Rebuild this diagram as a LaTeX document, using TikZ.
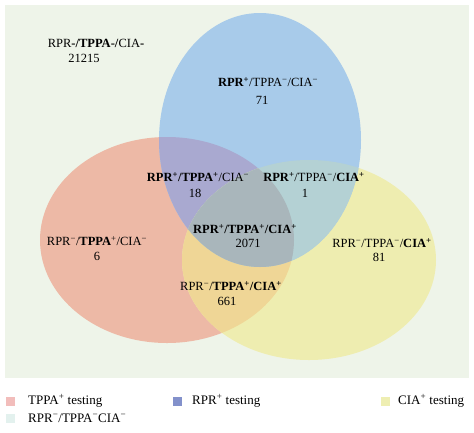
\documentclass[tikz,border=0pt]{standalone}
\usepackage{fontspec}
\setmainfont{Liberation Serif}
\definecolor{bgc}{HTML}{EEF4E9}
\definecolor{bluec}{HTML}{A8CBEA}
\definecolor{redc}{HTML}{EDB9A6}
\definecolor{yelc}{HTML}{EEEDB0}
\definecolor{rbc}{HTML}{A9A9D0}
\definecolor{byc}{HTML}{B4D1D4}
\definecolor{ryc}{HTML}{EFD696}
\definecolor{rbyc}{HTML}{A9B6BB}
\definecolor{legred}{HTML}{F2BDBB}
\definecolor{legblue}{HTML}{8391CB}
\definecolor{legyel}{HTML}{EEEEB2}
\definecolor{legbg}{HTML}{E3F1EE}
\newcommand{\smi}{\textsuperscript{−}}
\newcommand{\spl}{\textsuperscript{+}}
\begin{document}
\begin{tikzpicture}[x=1pt,y=-1pt,
  lbl/.style={inner sep=0pt,font=\fontsize{12.5}{14}\selectfont},
  legsq/.style={minimum size=9pt,inner sep=0pt,anchor=center},
  legtxt/.style={inner sep=0pt,anchor=west,font=\fontsize{13}{15}\selectfont}]
\useasboundingbox (0,0) rectangle (474,432);
\fill[white] (0,0) rectangle (474,432);
\fill[bgc] (5,5) rectangle (469,378);
\def\redE{(167,240) ellipse [x radius=127pt, y radius=103pt]}
\def\blueE{(260,140) ellipse [x radius=101pt, y radius=127pt]}
\def\yelE{(309,260) ellipse [x radius=127pt, y radius=100pt]}
\fill[redc] \redE;
\fill[yelc] \yelE;
\fill[bluec] \blueE;
\begin{scope}\clip \redE; \fill[rbc] \blueE; \fill[ryc] \yelE; \end{scope}
\begin{scope}\clip \blueE; \fill[byc] \yelE; \end{scope}
\begin{scope}\clip \redE; \clip \blueE; \fill[rbyc] \yelE; \end{scope}
% labels
\node[lbl] (nnn) at (96,43) {RPR\textbf{-/TPPA-/}CIA\textbf{-}};
\node[lbl] (nnnv) at (84,58) {21215};
\node[lbl] (pnn) at (268,82) {\textbf{RPR\spl}/TPPA\smi/CIA\smi};
\node[lbl] (pnnv) at (262,100) {71};
\node[lbl] (ppn) at (198,177) {\textbf{RPR\spl/TPPA\spl}/CIA\smi};
\node[lbl] (ppnv) at (195,193) {18};
\node[lbl] (pnp) at (314,177) {\textbf{RPR\spl}/TPPA\smi/\textbf{CIA\spl}};
\node[lbl] (pnpv) at (305,193) {1};
\node[lbl] (ppp) at (245,229) {\textbf{RPR\spl/TPPA\spl/CIA\spl}};
\node[lbl] (pppv) at (248,243) {2071};
\node[lbl] (npn) at (97,241) {RPR\smi/\textbf{TPPA}\spl/CIA\smi};
\node[lbl] (npnv) at (97,256) {6};
\node[lbl] (npp) at (231,286) {RPR\smi/\textbf{TPPA\spl/CIA\spl}};
\node[lbl] (nppv) at (227,301) {661};
\node[lbl] (nnp) at (382,243) {RPR\smi/TPPA\smi/\textbf{CIA\spl}};
\node[lbl] (nnpv) at (379,257) {81};
% legend
\node[legsq,fill=legred] (lq1) at (10.5,401) {};
\node[legtxt] (lt1) at (28,401) {TPPA\spl{} testing};
\node[legsq,fill=legblue] (lq2) at (177.5,401) {};
\node[legtxt] (lt2) at (192,401) {RPR\spl{} testing};
\node[legsq,fill=legyel] (lq3) at (385,401) {};
\node[legtxt] (lt3) at (398,401) {CIA\spl{} testing};
\node[legsq,fill=legbg] (lq4) at (10.5,418) {};
\node[legtxt] (lt4) at (28,418) {RPR\smi/TPPA\smi CIA\smi};
\end{tikzpicture}
\end{document}
